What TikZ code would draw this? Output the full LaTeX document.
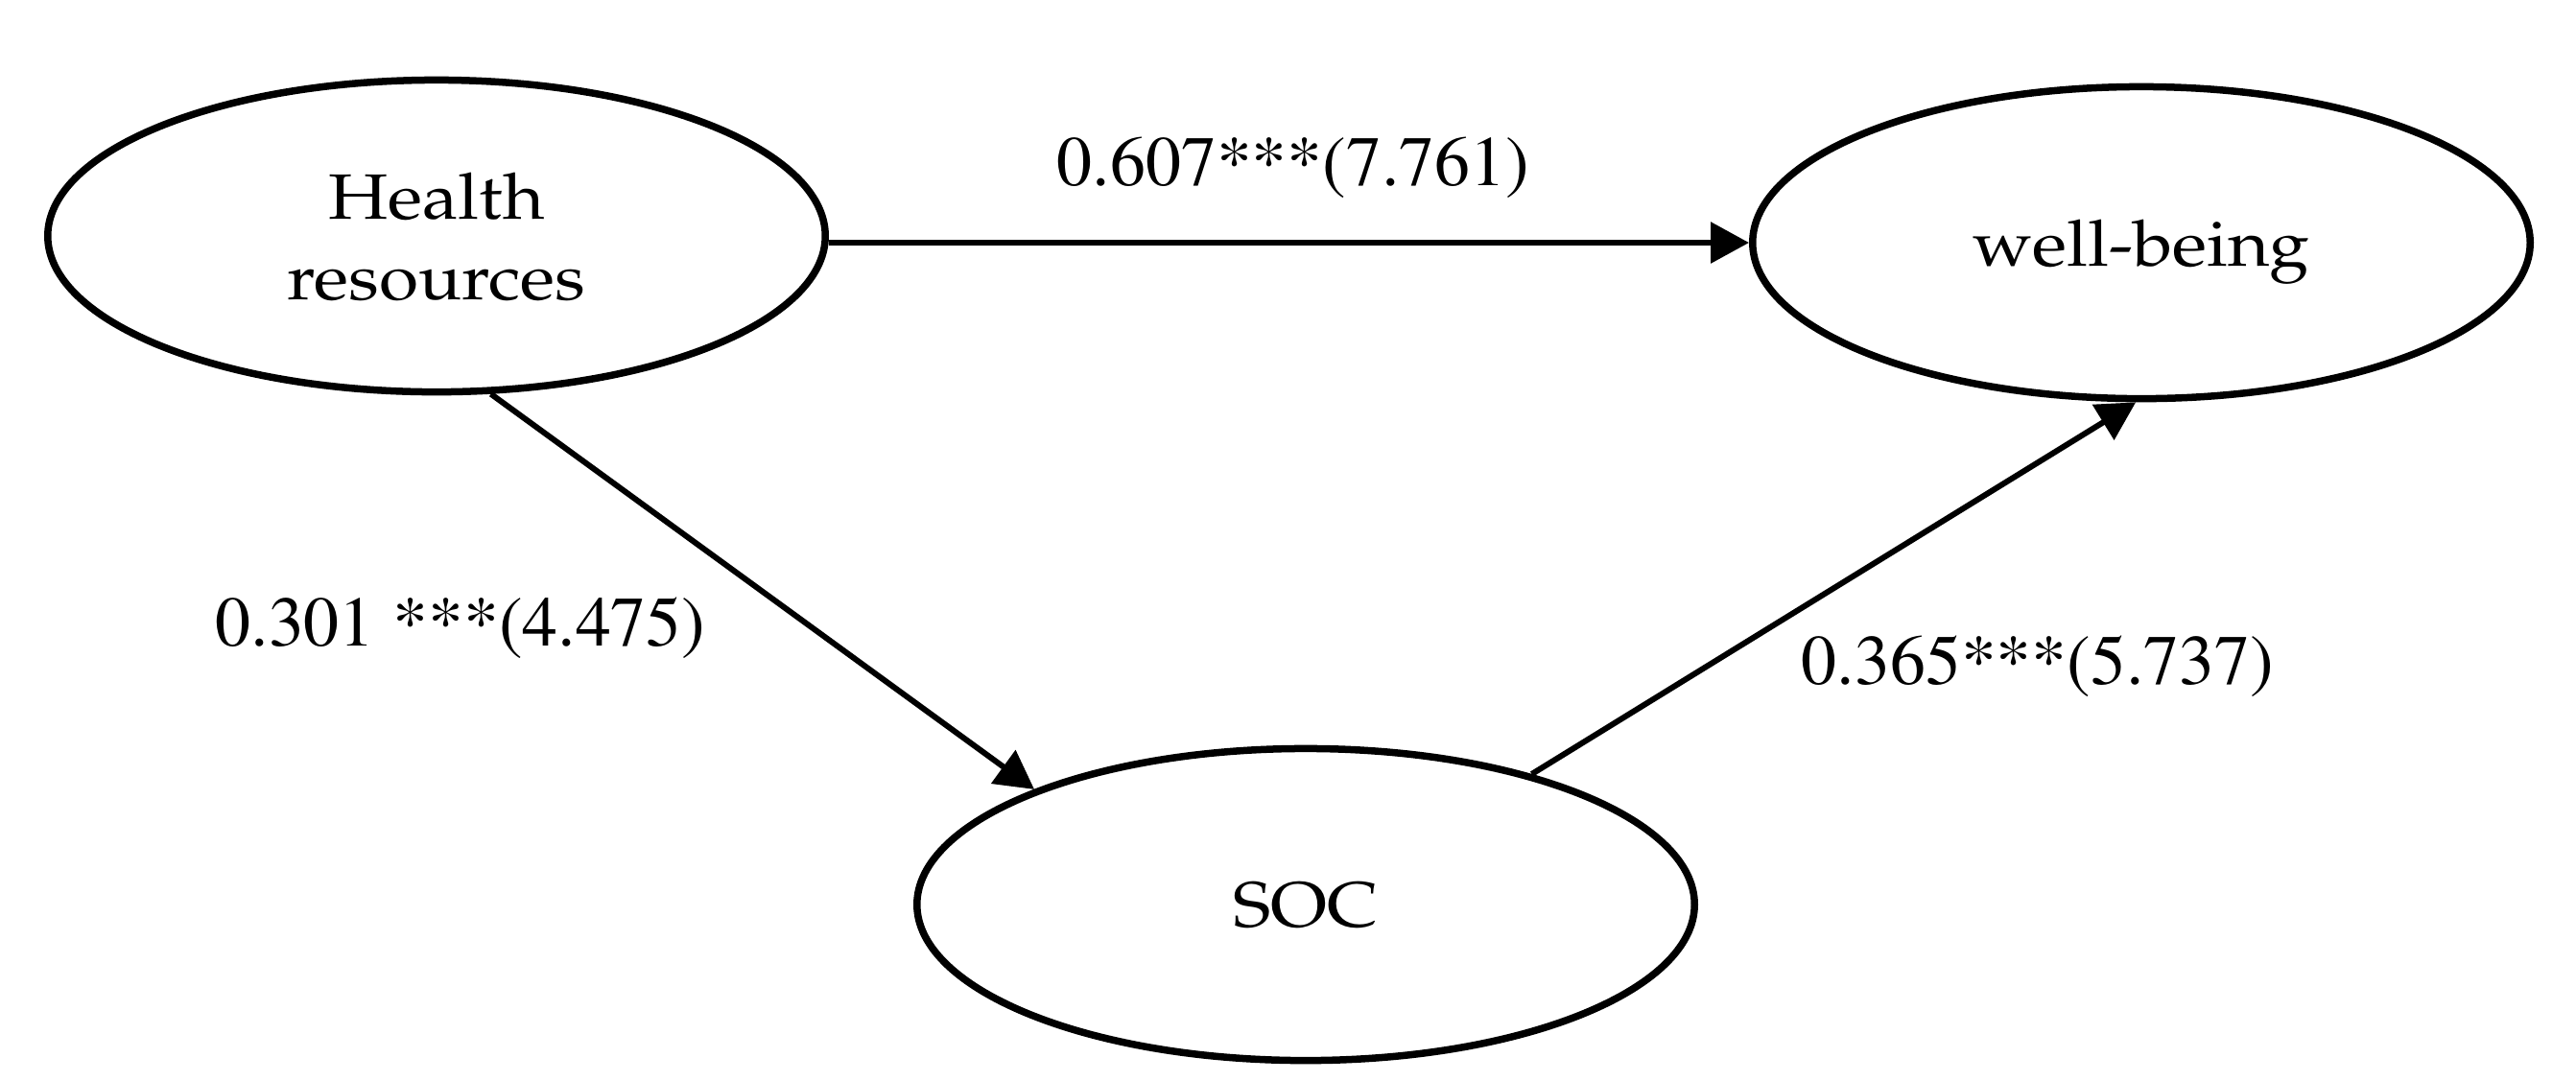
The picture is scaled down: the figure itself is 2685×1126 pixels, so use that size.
\documentclass[tikz,border=0pt]{standalone}
\usepackage[T1]{fontenc}
\usetikzlibrary{arrows.meta,shapes.geometric}
\newcommand{\sxx}[1]{\scalebox{1.12}[1]{#1}}
\tikzset{
  latent/.style={ellipse, draw, line width=0.075cm, minimum width=8.1cm, minimum height=3.25cm,
    inner sep=0pt, align=center, text depth=0pt,
    font=\fontfamily{ppl}\fontsize{19}{23.9}\selectfont},
  path/.style={line width=0.06cm, -{Triangle[length=0.4cm,width=0.42cm]}},
  coef/.style={anchor=base, inner sep=0pt, font=\fontfamily{ptm}\fontsize{21}{25}\selectfont}
}
\begin{document}
\begin{tikzpicture}[x=0.01cm,y=-0.01cm]
\useasboundingbox (0,0) rectangle (2685,1126);
\node[latent] (h) at (455,246) {\sxx{Health}\\\sxx{resources}};
\node[latent] (w) at (2232,253) {\sxx{well-being}};
\node[latent] (s) at (1361,943) {\sxx{SOC}};
\draw[path] (w.west -| h.east) -- (w.west);
\draw[path] (h.-71) -- (s.157);
\draw[path] (s.30) -- (w.-92);
\node[coef] (c1) at (1348,193) {0.607***(7.761)};
\node[coef] (c2) at (480,673) {0.301 ***(4.475)};
\node[coef] (c3) at (2124,713) {0.365***(5.737)};
\end{tikzpicture}
\end{document}
